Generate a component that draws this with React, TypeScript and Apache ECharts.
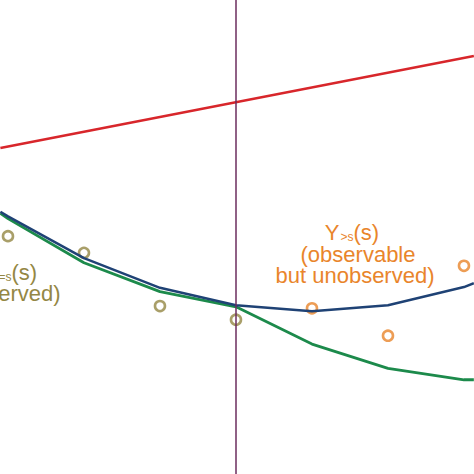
import React, { useRef, useEffect } from "react";
import * as echarts from "echarts";

// knots of the two model curves (x in period units, cut-off at 0)
const curveX = [-3.1, -3, -2, -1, 0, 1, 2, 3, 3.13];
const blueY = [3.45, 3.39, 2.84, 2.45, 2.22, 2.14, 2.22, 2.46, 2.51];
const greenY = [3.43, 3.36, 2.78, 2.4, 2.2, 1.71, 1.39, 1.24, 1.24];
const redX = [-3.1, 3.13];
const redY = [4.29, 5.5];
const observedX = [-3, -2, -1, 0];
const observedY = [3.13, 2.91, 2.21, 2.03];
const unobservedX = [1, 2, 3];
const unobservedY = [2.18, 1.82, 2.74];
const cutoffX = 0;

const OLIVE = "#948744";
const ORANGE = "#e9852b";
const FONT = "Liberation Sans, Arial, sans-serif";

const zip = (xs: number[], ys: number[]) => xs.map((x, i) => [x, ys[i]]);

const App = function () {
  const chart = useRef<HTMLDivElement>(null);
  useEffect(() => {
    if (!chart.current) return;
    const myChart = echarts.init(chart.current, null, { renderer: "svg" });
    const hidden = {
      axisLine: { show: false },
      axisTick: { show: false },
      axisLabel: { show: false },
      splitLine: { show: false },
    };
    // "Y" + subscript + "(s)"
    const sub = (color: string) => ({
      a: { font: `22px ${FONT}`, fill: color, lineHeight: 22 },
      s: {
        font: `12px ${FONT}`,
        fill: color,
        lineHeight: 22,
        verticalAlign: "bottom",
        padding: [9, 0, 0, 1],
      },
    });
    const line = (text: string, x: number, y: number, color: string) => ({
      type: "text",
      x,
      y,
      style: {
        text,
        font: `22px ${FONT}`,
        fill: color,
        align: "center",
        verticalAlign: "middle",
      },
    });
    const option = {
      animation: false,
      backgroundColor: "#fff",
      grid: { left: 0, right: 0, top: 0, bottom: 0 },
      xAxis: { type: "value", min: -3.105, max: 3.132, ...hidden },
      yAxis: { type: "value", min: 0, max: 6.237, ...hidden },
      series: [
        {
          type: "line",
          data: zip(redX, redY),
          symbol: "none",
          lineStyle: { color: "#d8262b", width: 2.5 },
          markLine: {
            silent: true,
            symbol: "none",
            label: { show: false },
            lineStyle: { color: "#6b2d5e", width: 1.5, type: "solid" },
            data: [{ xAxis: cutoffX }],
          },
        },
        {
          type: "line",
          data: zip(curveX, greenY),
          symbol: "none",
          lineStyle: { color: "#1c8a4b", width: 2.8 },
        },
        {
          type: "line",
          data: zip(curveX, blueY),
          symbol: "none",
          lineStyle: { color: "#1f4275", width: 2.5 },
        },
        {
          type: "scatter",
          data: zip(observedX, observedY),
          symbol: "circle",
          symbolSize: 10,
          itemStyle: { color: "#fff", borderColor: OLIVE, borderWidth: 2.6 },
        },
        {
          type: "scatter",
          data: zip(unobservedX, unobservedY),
          symbol: "circle",
          symbolSize: 10,
          itemStyle: { color: "#fff", borderColor: ORANGE, borderWidth: 2.6 },
        },
      ],
      graphic: [
        {
          type: "text",
          x: 352,
          y: 232,
          style: {
            text: "{a|Y}{s|>s}{a|(s)}",
            rich: sub(ORANGE),
            align: "center",
            verticalAlign: "middle",
          },
        },
        line("(observable", 358, 254, ORANGE),
        line("but unobserved)", 355, 275, ORANGE),
        {
          type: "text",
          x: 10,
          y: 272,
          style: {
            text: "{a|Y}{s|=s}{a|(s)}",
            rich: sub(OLIVE),
            align: "center",
            verticalAlign: "middle",
          },
        },
        line("(observed)", 8, 293, OLIVE),
      ],
    };
    myChart.setOption(option as any);
    return () => {
      myChart.dispose();
    };
  }, []);
  return (
    <div
      ref={chart}
      style={{ position: "fixed", left: 0, top: 0, width: 474, height: 474 }}
    ></div>
  );
};
export default App;
